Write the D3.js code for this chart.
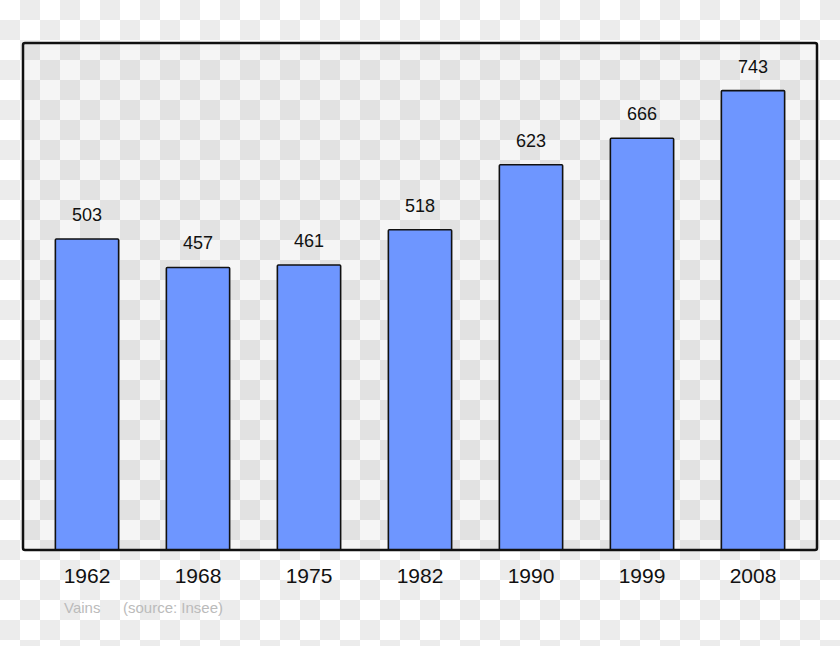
<!DOCTYPE html><html><head><meta charset="utf-8"><script src="https://cdn.jsdelivr.net/npm/d3@7"></script>
<style>body{margin:0}svg{display:block}</style></head><body><svg id="c" width="840" height="646"></svg>
<script>
const years=["1962","1968","1975","1982","1990","1999","2008"];
const values=[503,457,461,518,623,666,743];
const caption=["Vains","(source: Insee)"];
const svg=d3.select("#c");
const defs=svg.append("defs");
const p=defs.append("pattern").attr("id","chk").attr("width",40).attr("height",40).attr("patternUnits","userSpaceOnUse");
p.append("rect").attr("width",40).attr("height",40).attr("fill","#ffffff");
p.append("rect").attr("x",20).attr("y",0).attr("width",20).attr("height",20).attr("fill","#ececec");
p.append("rect").attr("x",0).attr("y",20).attr("width",20).attr("height",20).attr("fill","#ececec");
svg.append("rect").attr("width",840).attr("height",646).attr("fill","url(#chk)");
const L=23,R=817,T=43,B=550;
svg.append("rect").attr("x",L).attr("y",T).attr("width",R-L).attr("height",B-T).attr("fill","rgba(0,0,0,0.04)");
const x=d3.scaleBand().domain(years).range([L+(R-L)/2-7*111/2,L+(R-L)/2+7*111/2]).paddingInner(0.43).paddingOuter(0.215);
const y=d3.scaleLinear().domain([0,820]).range([B,T]);
svg.selectAll(".bar").data(values).join("rect").attr("x",(d,i)=>x(years[i])).attr("y",d=>y(d)).attr("width",x.bandwidth()).attr("height",d=>B-y(d))
 .attr("fill","#6e96ff").attr("stroke","#111").attr("stroke-width",1.6).attr("rx",1);
svg.selectAll(".val").data(values).join("text").attr("x",(d,i)=>x(years[i])+x.bandwidth()/2).attr("y",d=>y(d)-18).attr("text-anchor","middle")
 .attr("font-family","Liberation Sans, Arial, sans-serif").attr("font-size",18).attr("fill","#111").text(d=>d);
svg.append("rect").attr("x",L).attr("y",T).attr("width",R-L).attr("height",B-T).attr("fill","none").attr("stroke","#111").attr("stroke-width",2.5).attr("rx",2);
const ax=svg.append("g").attr("transform",`translate(0,${B})`).call(d3.axisBottom(x).tickSize(0).tickPadding(18));
ax.select(".domain").remove();
ax.selectAll("text").attr("font-family","Liberation Sans, Arial, sans-serif").attr("font-size",21).attr("fill","#111");
svg.append("text").attr("x",64).attr("y",613).attr("font-family","Liberation Sans, Arial, sans-serif").attr("font-size",15).attr("fill","#bbbbbb").text(caption[0]);
svg.append("text").attr("x",123).attr("y",613).attr("font-family","Liberation Sans, Arial, sans-serif").attr("font-size",15).attr("fill","#bbbbbb").text(caption[1]);
</script></body></html>
